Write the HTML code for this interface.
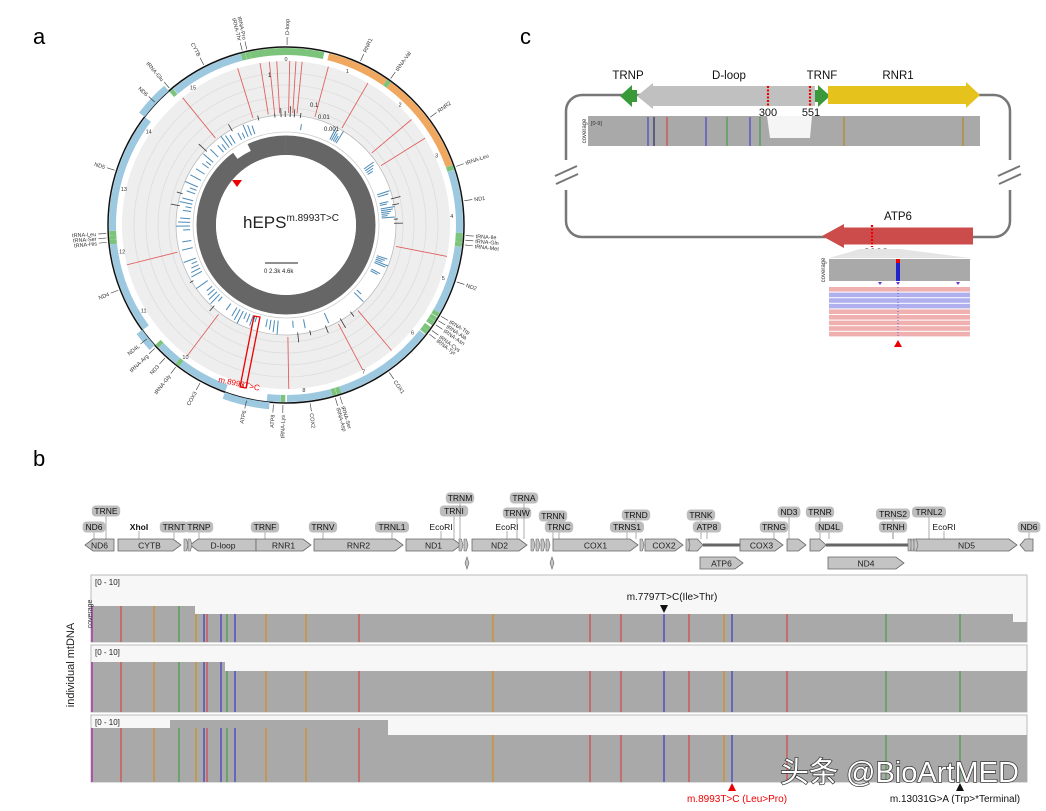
<!DOCTYPE html>
<html><head><meta charset="utf-8"><style>
html,body{margin:0;padding:0;background:#fff;}
svg{display:block;font-family:"Liberation Sans","Noto Sans CJK SC",sans-serif;}
</style></head><body>
<svg id="fig" width="1046" height="811" viewBox="0 0 1046 811" xmlns="http://www.w3.org/2000/svg">
<text x="33" y="44" font-size="22">a</text>
<text x="33" y="466" font-size="22">b</text>
<text x="520" y="44" font-size="22">c</text>
<g id="pa"></g>
<g id="pb"></g>
<g id="pc"></g>
</svg>
<script>
const NS="http://www.w3.org/2000/svg";
const GENOME=16569;
// panel a data
const circGenes=[["D-loop",16024,576,"g"],["RNR1",648,1601,"o"],["tRNA-Val",1602,1670,"g"],["RNR2",1671,3229,"o"],["tRNA-Leu",3230,3304,"g"],["ND1",3307,4262,"b"],["tRNA-Ile",4263,4331,"g"],["tRNA-Gln",4329,4400,"g"],["tRNA-Met",4402,4469,"g"],["ND2",4470,5511,"b"],["tRNA-Trp",5512,5579,"g"],["tRNA-Ala",5587,5655,"g"],["tRNA-Asn",5657,5729,"g"],["tRNA-Cys",5761,5826,"g"],["tRNA-Tyr",5826,5891,"g"],["COX1",5904,7445,"b"],["tRNA-Ser",7446,7514,"g"],["tRNA-Asp",7518,7585,"g"],["COX2",7586,8269,"b"],["tRNA-Lys",8295,8364,"g"],["ATP8",8366,8572,"b"],["ATP6",8527,9207,"b"],["COX3",9207,9990,"b"],["tRNA-Gly",9991,10058,"g"],["ND3",10059,10404,"b"],["tRNA-Arg",10405,10469,"g"],["ND4L",10470,10766,"b"],["ND4",10760,12137,"b"],["tRNA-His",12138,12206,"g"],["tRNA-Ser",12207,12265,"g"],["tRNA-Leu",12266,12336,"g"],["ND5",12337,14148,"b"],["ND6",14149,14673,"b"],["tRNA-Glu",14674,14742,"g"],["CYTB",14747,15887,"b"],["tRNA-Thr",15888,15953,"g"],["tRNA-Pro",15956,16023,"g"]];
const redLinePos=[16150,16300,16420,60,160,260,690,1380,2300,2670,4650,6440,7000,8240,9990,11780,14770,15780];
const blueTickPos=[400,1250,1300,1350,1400,1450,2500,2560,2620,2680,3300,3360,3550,3600,3700,3750,3800,3850,3900,3950,5000,5050,5100,5150,5200,5400,5450,6100,6200,7200,7800,8100,8500,8600,8700,8800,9100,9150,9200,9300,9400,9500,9600,9700,9900,10200,10300,10400,10500,10600,10800,11100,11200,11300,11400,11500,11800,12000,12300,12400,12500,12600,12800,12900,13000,13100,13300,13400,13500,13700,13900,14100,14200,14300,14500,14700,14800,14900,15000,15100,15300,15400,15500,15600,15700];
const blackTickPos=[16300,16450,16550,100,200,350,3500,3650,4000,4100,6600,6900,7300,7700,8000,10200,11000,12900,13200,14400,15200,15900];
const ticksA=["0","1","2","3","4","5","6","7","8","9","10","11","12","13","14","15"];
// panel b data
const bGenes=[["ND6",85,114,-1,545],["CYTB",118,181,1,545],["D-loop",190,256,-1,545],["RNR1",256,311,1,545],["RNR2",314,403,1,545],["ND1",406,461,1,545],["ND2",472,527,1,545],["COX1",553,638,1,545],["COX2",645,683,1,545],["",689,703,1,545],["COX3",740,783,1,545],["",787,806,1,545],["",810,826,1,545],["ND5",916,1017,1,545],["",1020,1033,-1,545],["ATP6",700,743,1,563],["ND4",828,904,1,563]];
const bSmall=[184,188,459,464,531,536,541,546,640,686,908,911,914];
const bLabels=[["ND6",94,527,1],["TRNE",106,511,1],["XhoI",139,527,0],["TRNT",174,527,1],["TRNP",199,527,1],["TRNF",265,527,1],["TRNV",323,527,1],["TRNL1",392,527,1],["EcoRI",441,527,0],["TRNI",454,511,1],["TRNM",460,498,1],["EcoRI",507,527,0],["TRNW",517,513,1],["TRNA",524,498,1],["TRNN",553,516,1],["TRNC",559,527,1],["TRND",636,515,1],["TRNS1",627,527,1],["TRNK",701,515,1],["ATP8",707,527,1],["TRNG",774,527,1],["ND3",789,512,1],["TRNR",820,512,1],["ND4L",829,527,1],["TRNS2",893,514,1],["TRNH",893,527,1],["TRNL2",929,512,1],["EcoRI",944,527,0],["ND6",1029,527,1]];
const varX=[92,121,154,179,196,204,207,221,227,235,266,306,359,493,590,621,664,689,724,732,787,886,960];
const varC=["#a0a","#d33","#d80","#393","#d80","#22c","#d33","#22c","#393","#22c","#d80","#d80","#d33","#d80","#d33","#d33","#22c","#d33","#d80","#22c","#d33","#393","#393"];
const trackTops=[575,645,715];
const covProfiles=[[[91,606],[195,614],[1013,622],[1027,622]],[[91,662],[225,671],[1027,671]],[[91,728],[170,720],[388,735],[1027,735]]];

const fig=document.getElementById('fig');
function el(tag,attrs,parent,text){const e=document.createElementNS(NS,tag);for(const k in attrs)e.setAttribute(k,attrs[k]);if(text!==undefined)e.textContent=text;(parent||fig).appendChild(e);return e;}
// ---------- panel a ----------
const pa=document.getElementById('pa');
const CX=286,CY=225;
function pol(r,p){const a=p/GENOME*2*Math.PI-Math.PI/2;return [CX+r*Math.cos(a),CY+r*Math.sin(a)];}
function arc(r1,r2,p1,p2){if(p2<p1)p2+=GENOME;const a=pol(r2,p1),b=pol(r2,p2),c=pol(r1,p2),d=pol(r1,p1);const lg=(p2-p1)>GENOME/2?1:0;return `M${a[0]},${a[1]}A${r2},${r2} 0 ${lg} 1 ${b[0]},${b[1]}L${c[0]},${c[1]}A${r1},${r1} 0 ${lg} 0 ${d[0]},${d[1]}Z`;}
let e;
e=el('circle',{cx:CX,cy:CY,r:164,fill:'#eeeeee'},pa);
[152,140,128,117].forEach(r=>{el('circle',{cx:CX,cy:CY,r:r,fill:'none',stroke:'#dddddd','stroke-width':0.8},pa);});
e=el('circle',{cx:CX,cy:CY,r:110,fill:'#fff',stroke:'#bbb','stroke-width':0.8},pa);
el('circle',{cx:CX,cy:CY,r:93,fill:'none',stroke:'#ccc','stroke-width':0.8},pa);
redLinePos.forEach(p=>{const a=pol(112,p),b=pol(164,p);const l=el('line',{x1:a[0],y1:a[1],x2:b[0],y2:b[1],stroke:'#e06060','stroke-width':0.9},pa);});
blueTickPos.forEach((p,i)=>{const a=pol(96,p),b=pol(96+6+(i*7%9),p);const l=el('line',{x1:a[0],y1:a[1],x2:b[0],y2:b[1],stroke:'#4a8ab8','stroke-width':1},pa);});
blackTickPos.forEach((p,i)=>{const a=pol(108,p),b=pol(112+(i*5%8),p);const l=el('line',{x1:a[0],y1:a[1],x2:b[0],y2:b[1],stroke:'#333','stroke-width':0.8},pa);});
e=el('path',{d:arc(70,89,0,GENOME-1),fill:'#666'},pa);
el('circle',{cx:CX,cy:CY,r:89,fill:'none',stroke:'#666','stroke-width':1},pa);
el('circle',{cx:CX,cy:CY,r:70,fill:'#fff'},pa);
el('path',{d:arc(82,90,14900,15400),fill:'#fff'},pa);
el('circle',{cx:CX,cy:CY,r:178,fill:'none',stroke:'#111','stroke-width':1.5},pa);
const colMap={g:'#7cc47c',o:'#f0a860',b:'#9cc8e0'};
circGenes.forEach((g,i)=>{const off=(g[0]==='ND6'||g[0]==='ATP6'||g[0]==='ND4L')?8:0;const p=el('path',{d:arc(170+off,177+off,g[1],g[2]),fill:colMap[g[3]]},pa);
 let mid=(g[2]<g[1]?(g[1]+g[2]+GENOME)/2:(g[1]+g[2])/2)%GENOME;const a=pol(180,mid),b=pol(188,mid);el('line',{x1:a[0],y1:a[1],x2:b[0],y2:b[1],stroke:'#333','stroke-width':0.6},pa);
 const t=pol(190,mid);let ang=mid/GENOME*360-90;let anchor='start';if(ang>90&&ang<270){ang-=180;anchor='end';}
 const tx=el('text',{x:t[0],y:t[1]+2,'font-size':5.5,fill:'#333','text-anchor':anchor,transform:`rotate(${ang} ${t[0]} ${t[1]})`},pa,g[0]);});
ticksA.forEach((s,i)=>{const p=i*1000;const t=pol(166,p);const x=el('text',{x:t[0],y:t[1]+2,'font-size':5.5,fill:'#333','text-anchor':'middle'},pa,s);});
[["1",268,77],["0.1",310,107],["0.01",318,119],["0.001",324,131]].forEach(s=>{const t=el('text',{x:s[1],y:s[2],'font-size':6,fill:'#222'},pa,s[0]);});
e=el('text',{x:243,y:228,'font-size':17,fill:'#222'},pa);
e.innerHTML='hEPS<tspan font-size="10" dy="-7">m.8993T&gt;C</tspan>';
el('line',{x1:265,y1:263,x2:298,y2:263,stroke:'#222','stroke-width':1},pa);
e=el('text',{x:264,y:273,'font-size':6,fill:'#222'},pa,'0    2.3k   4.6k');e.setAttribute('xml:space','preserve');
e=el('polygon',{points:'232,180 242,180 237,187',fill:'#e00'},pa);
e=el('polygon',{points:'254,316 260,317 246,388 240,387',fill:'none',stroke:'#e00','stroke-width':1.3},pa);
e=el('text',{x:218,y:382,'font-size':8,fill:'#e00',transform:'rotate(12 218 382)'},pa,'m.8993T>C');
// ---------- panel b ----------
const pb=document.getElementById('pb');
e=el('text',{x:0,y:0,'font-size':11,fill:'#222','text-anchor':'middle',transform:'translate(74,665) rotate(-90)'},pb,'individual mtDNA');
el('line',{x1:703,y1:545,x2:740,y2:545,stroke:'#666','stroke-width':3},pb);
el('line',{x1:826,y1:545,x2:916,y2:545,stroke:'#666','stroke-width':3},pb);
function arrowPath(x1,x2,dir,y,h){const hh=h/2,tip=Math.min(8,(x2-x1)*0.4);if(dir>0)return `M${x1},${y-hh}L${x2-tip},${y-hh}L${x2},${y}L${x2-tip},${y+hh}L${x1},${y+hh}Z`;return `M${x2},${y-hh}L${x1+tip},${y-hh}L${x1},${y}L${x1+tip},${y+hh}L${x2},${y+hh}Z`;}
bGenes.forEach(g=>{const p=el('path',{d:arrowPath(g[1],g[2],g[3],g[4],12),fill:'#c4c4c4',stroke:'#666','stroke-width':0.8},pb);
 if(g[0]){const t=el('text',{x:(g[1]+g[2])/2,y:g[4]+3.5,'font-size':8.5,fill:'#222','text-anchor':'middle'},pb,g[0]);}});
bSmall.forEach(x=>{const p=el('path',{d:arrowPath(x,x+4,1,545,12),fill:'#c4c4c4',stroke:'#666','stroke-width':0.6},pb);});
[[467,563],[552,563]].forEach(s=>{const p=el('path',{d:`M${s[0]},${s[1]-6}L${s[0]+2},${s[1]}L${s[0]},${s[1]+6}L${s[0]-2},${s[1]}Z`,fill:'#c4c4c4',stroke:'#666','stroke-width':0.6},pb);});
bLabels.forEach(l=>{const w=l[0].length*5.6+6;if(l[3]){el('line',{x1:l[1],y1:l[2]+5,x2:l[1],y2:539,stroke:'#777','stroke-width':0.6},pb);const r=el('rect',{x:l[1]-w/2,y:l[2]-5.5,width:w,height:11,rx:4,fill:'#bdbdbd'},pb);}else{el('line',{x1:l[1],y1:l[2]+4,x2:l[1],y2:539,stroke:'#777','stroke-width':0.6},pb);}
 const t=el('text',{x:l[1],y:l[2]+3.2,'font-size':8.5,fill:'#111','text-anchor':'middle','font-weight':l[0]==='XhoI'?'bold':'normal'},pb,l[0]);});
trackTops.forEach((ty,i)=>{const r=el('rect',{x:91,y:ty,width:936,height:67,fill:'#f7f7f7',stroke:'#bbb','stroke-width':1},pb);
 const prof=covProfiles[i];let d=`M91,${ty+67}`;prof.forEach((pt,j)=>{d+=`L${pt[0]},${pt[1]}`;if(j<prof.length-1)d+=`L${prof[j+1][0]},${pt[1]}`;});d+=`L1027,${ty+67}Z`;
 const c=el('path',{d:d,fill:'#a9a9a9'},pb);
 varX.forEach((x,k)=>{const top=Math.max(...prof.filter(p=>p[0]<=x).map(p=>p[1]));const ln=el('line',{x1:x,y1:top,x2:x,y2:ty+67,stroke:varC[k],'stroke-width':1},pb);});
 const t=el('text',{x:95,y:ty+10,'font-size':8,fill:'#222'},pb,'[0 - 10]');});
e=el('text',{x:0,y:0,'font-size':7,fill:'#333','text-anchor':'middle',transform:'translate(92,614) rotate(-90)'},pb,'coverage');
e=el('text',{x:672,y:600,'font-size':10,fill:'#111','text-anchor':'middle'},pb,'m.7797T>C(Ile>Thr)');
el('polygon',{points:'660,605 668,605 664,613',fill:'#111'},pb);
el('polygon',{points:'728,791 736,791 732,783',fill:'#e00'},pb);
el('polygon',{points:'956,791 964,791 960,783',fill:'#111'},pb);
e=el('text',{x:737,y:802,'font-size':10,fill:'#e00','text-anchor':'middle'},pb,'m.8993T>C (Leu>Pro)');
e=el('text',{x:955,y:802,'font-size':10,fill:'#111','text-anchor':'middle'},pb,'m.13031G>A (Trp>*Terminal)');
e=el('text',{x:780,y:782,'font-size':29,fill:'#fff',stroke:'#333','stroke-width':1.4,'paint-order':'stroke'},pb,'头条 @BioArtMED');
// ---------- panel c ----------
const pc=document.getElementById('pc');
e=el('rect',{x:566,y:95,width:444,height:142,rx:16,fill:'none',stroke:'#777','stroke-width':2.5},pc);
el('rect',{x:556,y:160,width:24,height:30,fill:'#fff'},pc);el('rect',{x:998,y:160,width:24,height:30,fill:'#fff'},pc);
[[555,172],[556,180],[998,172],[999,180]].forEach(p=>{el('line',{x1:p[0],y1:p[1]+4,x2:p[0]+22,y2:p[1]-6,stroke:'#777','stroke-width':2},pc);});
function cArrow(x1,x2,dir,y,h,hh,tip,fill,name){const d=dir>0?`M${x1},${y-h/2}L${x2-tip},${y-h/2}L${x2-tip},${y-hh/2}L${x2},${y}L${x2-tip},${y+hh/2}L${x2-tip},${y+h/2}L${x1},${y+h/2}Z`:`M${x2},${y-h/2}L${x1+tip},${y-h/2}L${x1+tip},${y-hh/2}L${x1},${y}L${x1+tip},${y+hh/2}L${x1+tip},${y+h/2}L${x2},${y+h/2}Z`;const p=el('path',{d:d,fill:fill},pc);}
cArrow(637,815,-1,96,20,26,16,'#c0c0c0','dloop-arrow');
cArrow(620,637,-1,96,12,22,12,'#3a9a3a','trnp-arrow');
cArrow(815,830,1,96,12,22,12,'#3a9a3a','trnf-arrow');
cArrow(828,980,1,95,18,26,14,'#e6c21c','rnr1-arrow');
cArrow(822,973,-1,236,17,24,22,'#cc4b4b','atp6-arrow');
[["TRNP",628,79],["D-loop",729,79],["TRNF",822,79],["RNR1",898,79],["ATP6",898,220]].forEach(s=>{const t=el('text',{x:s[1],y:s[2],'font-size':11.5,fill:'#111','text-anchor':'middle'},pc,s[0]);});
[[768,86,106],[810,86,106],[872,225,247]].forEach(s=>{el('line',{x1:s[0],y1:s[1],x2:s[0],y2:s[2],stroke:'#e00','stroke-width':2.2,'stroke-dasharray':'2,1.5'},pc);});
[["300",768,116],["551",811,116],["8993",876,256]].forEach(s=>{const t=el('text',{x:s[1],y:s[2],'font-size':11,fill:'#111','text-anchor':'middle'},pc,s[0]);});
e=el('rect',{x:588,y:116,width:392,height:30,fill:'#a9a9a9'},pc);
el('path',{d:'M767,116L770,138L810,138L812,116Z',fill:'#f5f5f5'},pc);
[[648,'#33c'],[654,'#115'],[667,'#d33'],[706,'#33c'],[727,'#393'],[750,'#33c'],[760,'#393'],[844,'#a80'],[963,'#a80']].forEach(v=>{el('line',{x1:v[0],y1:117,x2:v[0],y2:146,stroke:v[1],'stroke-width':1},pc);});
e=el('text',{x:0,y:0,'font-size':6,fill:'#333','text-anchor':'middle',transform:'translate(586,131) rotate(-90)'},pc,'coverage');
el('text',{x:591,y:125,'font-size':5.5,fill:'#333'},pc,'[0-9]');
el('path',{d:'M829,258L860,249L900,249L970,258Z',fill:'#e4e4e4'},pc);
e=el('rect',{x:829,y:259,width:141,height:22,fill:'#a9a9a9'},pc);
el('rect',{x:896,y:259,width:4,height:22,fill:'#22c'},pc);el('rect',{x:896,y:259,width:4,height:4,fill:'#e00'},pc);
e=el('text',{x:0,y:0,'font-size':6,fill:'#333','text-anchor':'middle',transform:'translate(825,270) rotate(-90)'},pc,'coverage');
['#f0b0b0','#b0b0ee','#b0b0ee','#b0b0ee','#f0b0b0','#f0b0b0','#f0b0b0','#f0b0b0','#f0b0b0'].forEach((c,i)=>{const r=el('rect',{x:829,y:287+i*5.6,width:141,height:4.6,fill:c},pc);});
el('line',{x1:898,y1:287,x2:898,y2:337,stroke:'#66c','stroke-width':1,'stroke-dasharray':'1,2'},pc);
[[880,284],[898,284],[958,284]].forEach(p=>{el('polygon',{points:`${p[0]-2},${p[1]-2} ${p[0]+2},${p[1]-2} ${p[0]},${p[1]+1}`,fill:'#63c'},pc);});
e=el('polygon',{points:'894,347 902,347 898,340',fill:'#e00'},pc);
</script>
</body></html>
